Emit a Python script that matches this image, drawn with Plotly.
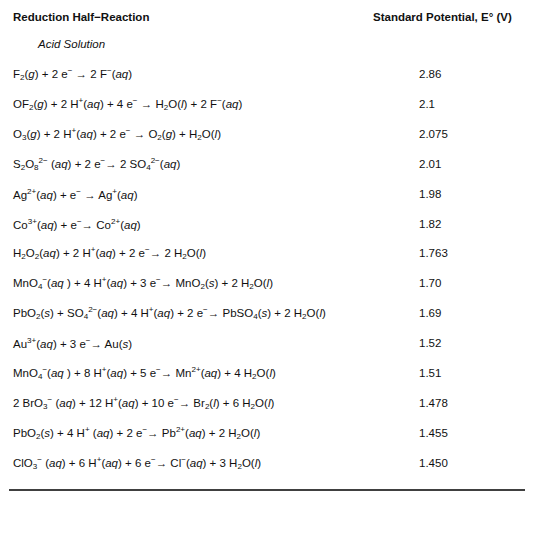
import plotly.graph_objects as go

# Table contents
reactions = [
    "F<sub>2</sub>(<i>g</i>) + 2 e<sup>−</sup> → 2 F<sup>−</sup>(<i>aq</i>)",
    "OF<sub>2</sub>(<i>g</i>) + 2 H<sup>+</sup>(<i>aq</i>) + 4 e<sup>−</sup> → H<sub>2</sub>O(<i>l</i>) + 2 F<sup>−</sup>(<i>aq</i>)",
    "O<sub>3</sub>(<i>g</i>) + 2 H<sup>+</sup>(<i>aq</i>) + 2 e<sup>−</sup> → O<sub>2</sub>(<i>g</i>) + H<sub>2</sub>O(<i>l</i>)",
    "S<sub>2</sub>O<sub>8</sub><sup>2−</sup> (<i>aq</i>) + 2 e<sup>−</sup>→ 2 SO<sub>4</sub><sup>2−</sup>(<i>aq</i>)",
    "Ag<sup>2+</sup>(<i>aq</i>) + e<sup>−</sup> → Ag<sup>+</sup>(<i>aq</i>)",
    "Co<sup>3+</sup>(<i>aq</i>) + e<sup>−</sup>→ Co<sup>2+</sup>(<i>aq</i>)",
    "H<sub>2</sub>O<sub>2</sub>(<i>aq</i>) + 2 H<sup>+</sup>(<i>aq</i>) + 2 e<sup>−</sup>→ 2 H<sub>2</sub>O(<i>l</i>)",
    "MnO<sub>4</sub><sup>−</sup>(<i>aq</i> ) + 4 H<sup>+</sup>(<i>aq</i>) + 3 e<sup>−</sup>→ MnO<sub>2</sub>(<i>s</i>) + 2 H<sub>2</sub>O(<i>l</i>)",
    "PbO<sub>2</sub>(<i>s</i>) + SO<sub>4</sub><sup>2−</sup>(<i>aq</i>) + 4 H<sup>+</sup>(<i>aq</i>) + 2 e<sup>−</sup>→ PbSO<sub>4</sub>(<i>s</i>) + 2 H<sub>2</sub>O(<i>l</i>)",
    "Au<sup>3+</sup>(<i>aq</i>) + 3 e<sup>−</sup>→ Au(<i>s</i>)",
    "MnO<sub>4</sub><sup>−</sup>(<i>aq</i> ) + 8 H<sup>+</sup>(<i>aq</i>) + 5 e<sup>−</sup>→ Mn<sup>2+</sup>(<i>aq</i>) + 4 H<sub>2</sub>O(<i>l</i>)",
    "2 BrO<sub>3</sub><sup>−</sup> (<i>aq</i>) + 12 H<sup>+</sup>(<i>aq</i>) + 10 e<sup>−</sup>→ Br<sub>2</sub>(<i>l</i>) + 6 H<sub>2</sub>O(<i>l</i>)",
    "PbO<sub>2</sub>(<i>s</i>) + 4 H<sup>+</sup> (<i>aq</i>) + 2 e<sup>−</sup>→ Pb<sup>2+</sup>(<i>aq</i>) + 2 H<sub>2</sub>O(<i>l</i>)",
    "ClO<sub>3</sub><sup>−</sup> (<i>aq</i>) + 6 H<sup>+</sup>(<i>aq</i>) + 6 e<sup>−</sup>→ Cl<sup>−</sup>(<i>aq</i>) + 3 H<sub>2</sub>O(<i>l</i>)",
]
potentials = ["2.86", "2.1", "2.075", "2.01", "1.98", "1.82", "1.763",
              "1.70", "1.69", "1.52", "1.51", "1.478", "1.455", "1.450"]
header_left = "<b>Reduction Half−Reaction</b>"
header_right = "<b>Standard Potential, E° (V)</b>"
section = "<i>Acid Solution</i>"

font = dict(family="Liberation Sans, Arial", size=11.5, color="#111")
fig = go.Figure()
ann = []
ann.append(dict(x=3, y=-1.906, text=header_left))
ann.append(dict(x=363, y=-1.906, text=header_right))
ann.append(dict(x=27, y=-1.003, text=section))
for i, (r, p) in enumerate(zip(reactions, potentials)):
    ann.append(dict(x=3, y=i, text=r))
    ann.append(dict(x=409, y=i, text=p))
for a in ann:
    a.update(xref="x", yref="y", xanchor="left", yanchor="middle",
             showarrow=False, font=font)

fig.add_shape(type="line", x0=1, x1=517, y0=13.91, y1=13.91,
              xref="x", yref="y", line=dict(color="black", width=1.5))
fig.update_layout(
    width=540, height=540, margin=dict(l=0, r=0, t=0, b=0),
    plot_bgcolor="white", paper_bgcolor="white", annotations=ann,
    xaxis=dict(range=[0, 540], visible=False),
    yaxis=dict(range=[15.85, -2.207], visible=False),
)
fig.write_html("out.html")
